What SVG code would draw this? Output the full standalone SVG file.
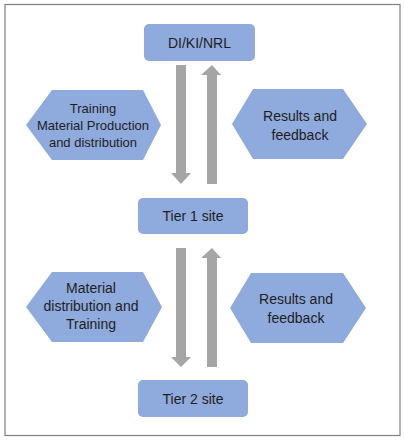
<svg xmlns="http://www.w3.org/2000/svg" width="405" height="440" viewBox="0 0 405 440">
<defs>
<style>
.box{fill:#8FAADC;}
.hex{fill:#8FAADC;}
.arr{fill:#A5A5A5;}
text{font-family:"Liberation Sans",Arial,sans-serif;fill:#1e1e1e;text-anchor:middle;}
.t14{font-size:14px;}
.t13{font-size:13px;}
</style>
</defs>
<rect x="0" y="0" width="405" height="440" fill="#ffffff"/>
<rect x="5" y="4.5" width="395" height="431" fill="#ffffff" stroke="#808080" stroke-width="1.2"/>
<g id="connectors">
<polygon class="arr" points="176,65 186,65 186,173 191,173 181,184 171,173 176,173"/>
<polygon class="arr" points="207,184 217,184 217,75 221,75 212,65 201,75 207,75"/>
<polygon class="arr" points="176,248 186,248 186,357 191,357 181,367 171,357 176,357"/>
<polygon class="arr" points="207,367 217,367 217,258 221,258 212,248 201,258 207,258"/>
</g>
<g id="node-dikinrl">
<rect class="box" x="144" y="24" width="111" height="37" rx="5"/>
<text class="t14" x="199.5" y="48">DI/KI/NRL</text>
</g>
<g id="node-training1">
<polygon class="hex" points="26,125 52,90 143,90 161,125 143,160 52,160"/>
<text class="t13" x="93" y="112.5">Training</text>
<text class="t13" x="93" y="129.5">Material Production</text>
<text class="t13" x="93" y="146.5">and distribution</text>
</g>
<g id="node-results1">
<polygon class="hex" points="232,124 253,89 343,89 367,124 343,159 253,159"/>
<text class="t14" x="300" y="121">Results and</text>
<text class="t14" x="300" y="140">feedback</text>
</g>
<g id="node-tier1">
<rect class="box" x="138" y="198" width="110" height="36" rx="5"/>
<text class="t14" x="193" y="221">Tier 1 site</text>
</g>
<g id="node-training2">
<polygon class="hex" points="26,307 52,272 143,272 162,307 143,342 52,342"/>
<text class="t14" x="91" y="293">Material</text>
<text class="t14" x="91" y="311">distribution and</text>
<text class="t14" x="91" y="329">Training</text>
</g>
<g id="node-results2">
<polygon class="hex" points="230,308 251,273 343,273 366,308 343,343 251,343"/>
<text class="t14" x="296" y="304">Results and</text>
<text class="t14" x="296" y="323">feedback</text>
</g>
<g id="node-tier2">
<rect class="box" x="138" y="380" width="110" height="37" rx="5"/>
<text class="t14" x="193" y="403.5">Tier 2 site</text>
</g>
</svg>
